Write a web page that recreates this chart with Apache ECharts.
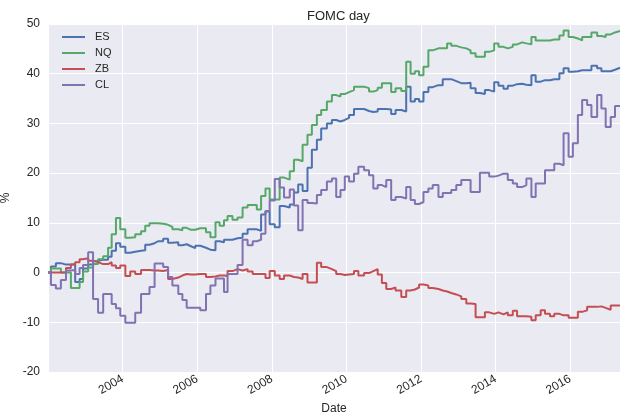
<!DOCTYPE html>
<html>
<head>
<meta charset="UTF-8">
<script src="https://cdn.jsdelivr.net/npm/echarts@6/dist/echarts.min.js"></script>
<style>
    body { margin: 0; background: #fff; }
    #chart { width: 626px; height: 420px; }
</style>
</head>
<body>
<div id="chart"></div>
<script>
    // FOMC meeting dates (first entry = start of the cumulative series)
    var dates = ['2002-01-02',
        '2002-01-30','2002-03-19','2002-05-07','2002-06-26','2002-08-13','2002-09-24','2002-11-06','2002-12-10',
        '2003-01-29','2003-03-18','2003-05-06','2003-06-25','2003-08-12','2003-09-16','2003-10-28','2003-12-09',
        '2004-01-28','2004-03-16','2004-05-04','2004-06-30','2004-08-10','2004-09-21','2004-11-10','2004-12-14',
        '2005-02-02','2005-03-22','2005-05-03','2005-06-30','2005-08-09','2005-09-20','2005-11-01','2005-12-13',
        '2006-01-31','2006-03-28','2006-05-10','2006-06-29','2006-08-08','2006-09-20','2006-10-25','2006-12-12',
        '2007-01-31','2007-03-21','2007-05-09','2007-06-28','2007-08-07','2007-09-18','2007-10-31','2007-12-11',
        '2008-01-30','2008-03-18','2008-04-30','2008-06-25','2008-08-05','2008-09-16','2008-10-29','2008-12-16',
        '2009-01-28','2009-03-18','2009-04-29','2009-06-24','2009-08-12','2009-09-23','2009-11-04','2009-12-16',
        '2010-01-27','2010-03-16','2010-04-28','2010-06-23','2010-08-10','2010-09-21','2010-11-03','2010-12-14',
        '2011-01-26','2011-03-15','2011-04-27','2011-06-22','2011-08-09','2011-09-21','2011-11-02','2011-12-13',
        '2012-01-25','2012-03-13','2012-04-25','2012-06-20','2012-08-01','2012-09-13','2012-10-24','2012-12-12',
        '2013-01-30','2013-03-20','2013-05-01','2013-06-19','2013-07-31','2013-09-18','2013-10-30','2013-12-18',
        '2014-01-29','2014-03-19','2014-04-30','2014-06-18','2014-07-30','2014-09-17','2014-10-29','2014-12-17',
        '2015-01-28','2015-03-18','2015-04-29','2015-06-17','2015-07-29','2015-09-17','2015-10-28','2015-12-16',
        '2016-01-27','2016-03-16','2016-04-27','2016-06-15','2016-07-27','2016-09-21','2016-11-02','2016-12-14',
        '2017-02-01','2017-03-15','2017-05-03'];

    // cumulative % per instrument
    var es = [0,
        1.2, 1.9, 1.6, 1.6, 1.6, -1.9, -1.3, 0.8,
        1.6, 2.3, 2.6, 2.6, 3.2, 4.4, 5.9, 5.2,
        4.0, 4.2, 4.4, 4.5, 5.6, 5.9, 6.3, 6.3,
        6.8, 6.0, 6.1, 5.5, 5.7, 5.3, 4.9, 5.4,
        5.0, 4.6, 4.5, 6.3, 6.1, 6.6, 6.6, 6.9,
        7.0, 7.8, 8.7, 8.7, 8.4, 11.7, 12.3, 9.7,
        9.1, 13.4, 13.1, 13.7, 16.1, 17.7, 16.4, 21.1,
        24.7, 26.7, 29.0, 30.0, 30.7, 30.4, 30.7, 31.1,
        31.7, 32.9, 32.9, 32.5, 32.3, 32.4, 32.9, 32.9,
        32.8, 31.9, 32.7, 32.4, 37.4, 34.4, 34.9, 34.4,
        36.3, 37.3, 37.7, 37.7, 38.9, 38.9, 38.5, 38.1,
        38.1, 38.2, 37.1, 36.1, 35.9, 36.7, 36.4, 38.3,
        37.6, 37.0, 37.6, 37.9, 38.0, 37.8, 37.7, 39.7,
        38.4, 38.7, 38.7, 38.9, 38.9, 40.1, 41.1, 40.4,
        40.5, 40.7, 40.7, 40.7, 41.6, 41.1, 40.5, 40.5,
        40.8, 41.2, 41.2];
    var nq = [0,
        0.8, 0.8, 0.0, 0.0, -3.1, -3.1, -1.9, 0.2,
        1.0, 1.7, 2.7, 3.3, 5.0, 7.7, 11.0, 8.7,
        7.0, 7.1, 7.7, 8.3, 9.4, 9.9, 9.9, 9.8,
        9.6, 9.2, 8.7, 8.5, 9.0, 8.6, 8.6, 8.9,
        8.9, 8.1, 7.1, 10.1, 9.4, 10.5, 11.4, 10.6,
        11.1, 13.1, 13.6, 13.6, 12.7, 15.4, 16.9, 14.7,
        14.7, 19.1, 18.7, 20.4, 22.7, 22.4, 25.7, 27.7,
        29.7, 31.7, 32.7, 34.4, 35.7, 35.4, 35.9, 36.3,
        36.7, 37.4, 37.4, 37.1, 36.4, 36.7, 37.2, 38.1,
        38.1, 36.3, 37.1, 36.5, 42.4, 40.0, 40.5, 39.7,
        41.4, 44.7, 45.1, 45.1, 45.1, 46.1, 45.6, 45.3,
        45.1, 44.7, 44.1, 43.4, 43.4, 44.4, 44.7, 46.1,
        45.4, 45.1, 45.4, 45.9, 46.3, 46.1, 45.9, 47.4,
        46.7, 46.7, 46.7, 46.9, 46.9, 47.7, 48.7, 47.4,
        47.1, 46.7, 47.4, 47.4, 48.3, 47.6, 47.4, 47.9,
        48.3, 48.6, 48.6];
    var zb = [0,
        0.0, 0.0, 0.0, 0.9, 1.6, 2.1, 2.7, 2.9,
        2.4, 2.1, 1.7, 1.7, 2.1, 1.4, 0.9, 1.4,
        -0.7, 0.2, -0.3, 0.5, 0.5, 0.4, 0.4, 0.3,
        0.5, -1.3, -1.0, -0.6, -0.3, -0.4, -0.4, -0.3,
        -0.3, -0.9, -0.8, -0.6, -0.6, -0.7, 0.3, 0.7,
        0.4, 0.7, 0.2, -0.3, -0.3, -0.3, -1.1, 0.3,
        -0.6, -1.3, -0.6, -0.9, -1.0, -1.3, -0.3, -2.0,
        -2.0, 2.0, 1.1, 0.7, 0.3, -0.3, -0.5, -0.4,
        -0.3, 0.3, -0.6, -0.1, 0.3, 0.7, -0.4, -2.1,
        -3.3, -3.0, -3.6, -4.9, -3.6, -3.4, -3.0, -2.4,
        -2.6, -3.1, -3.3, -3.6, -3.8, -4.1, -4.4, -4.8,
        -5.3, -6.2, -6.3, -9.0, -9.0, -8.0, -8.3, -8.0,
        -8.4, -8.0, -8.6, -7.7, -8.8, -8.8, -8.9, -9.6,
        -8.6, -7.6, -8.3, -8.8, -8.3, -8.6, -8.6, -9.1,
        -9.1, -7.9, -7.6, -6.9, -6.9, -6.8, -7.1, -7.5,
        -6.6, -6.6, -6.6];
    var cl = [0,
        -2.5, -3.2, -1.5, 0.4, 0.5, -0.3, 0.9, 1.5,
        4.1, -5.3, -8.1, -4.3, -4.3, -6.3, -7.2, -8.7,
        -10.1, -10.1, -8.1, -4.3, -4.3, -2.9, 1.8, 1.8,
        1.1, -0.9, -2.6, -4.3, -5.5, -7.1, -7.1, -7.1,
        -7.6, -4.3, -2.6, -1.2, -1.2, -3.9, -0.3, -0.3,
        1.5, 6.6, 5.5, 6.3, 6.6, 7.8, 12.4, 14.5,
        18.8, 17.1, 15.1, 16.7, 13.5, 8.5, 14.6, 14.0,
        13.9, 15.6, 16.6, 18.3, 18.9, 15.2, 16.6, 19.3,
        18.3, 19.9, 21.3, 20.6, 19.6, 16.9, 17.6, 17.2,
        18.6, 14.6, 15.2, 14.9, 17.2, 14.6, 13.8, 14.2,
        16.2, 16.9, 17.6, 15.2, 16.0, 16.0, 16.6, 17.6,
        18.6, 18.6, 16.2, 16.2, 20.1, 20.1, 19.3, 19.5,
        19.9, 19.9, 18.6, 17.9, 17.2, 17.6, 18.9, 15.2,
        17.9, 17.9, 20.6, 20.6, 21.9, 21.6, 28.0, 23.3,
        26.0, 31.7, 34.7, 33.7, 31.3, 35.7, 33.0, 29.3,
        31.3, 33.5, 33.5];

    var names = ['ES', 'NQ', 'ZB', 'CL'];
    var colors = ['#4C72B0', '#55A868', '#C44E52', '#8172B2'];
    var values = [es, nq, zb, cl];

    // date string -> decimal year
    function toYear(s) {
        var p = s.split('-');
        var y = +p[0];
        var t0 = Date.UTC(y, 0, 1), t1 = Date.UTC(y + 1, 0, 1);
        var t = Date.UTC(y, +p[1] - 1, +p[2]);
        return y + (t - t0) / (t1 - t0);
    }
    var xs = dates.map(toYear);

    var font = "'Liberation Sans', Arial, sans-serif";
    var txt = '#262626';

    var series = [];
    for (var k = 0; k < names.length; k++) {
        series.push({
            name: names[k],
            type: 'line',
            step: 'end',
            symbol: 'none',
            data: xs.map(function (x, i) { return [x, values[k][i]]; }),
            lineStyle: { color: colors[k], width: 2 },
            itemStyle: { color: colors[k] }
        });
    }

    var chart = echarts.init(document.getElementById('chart'));
    chart.setOption({
        animation: false,
        backgroundColor: '#fff',
        textStyle: { fontFamily: font },
        title: {
            text: 'FOMC day',
            left: 302,
            top: 5,
            textStyle: { fontFamily: font, fontSize: 13, fontWeight: 'normal', color: txt }
        },
        legend: {
            data: names,
            orient: 'vertical',
            left: 57,
            top: 24,
            icon: 'rect',
            itemWidth: 23,
            itemHeight: 2,
            itemGap: 0,
            textStyle: { fontFamily: font, fontSize: 11, color: txt, lineHeight: 16, padding: [0, 0, 0, 5] }
        },
        grid: {
            left: 48, right: 6, top: 24, bottom: 48,
            outerBoundsMode: 'none',
            containLabel: false,
            show: true, backgroundColor: '#EAEAF2', borderWidth: 0
        },
        xAxis: {
            type: 'value',
            name: 'Date',
            nameLocation: 'middle',
            nameGap: 31,
            nameTextStyle: { fontFamily: font, fontSize: 12, color: txt },
            min: 2002,
            max: xs[xs.length - 1],
            interval: 2,
            axisLine: { show: false },
            axisTick: { show: false },
            axisLabel: {
                rotate: 30, margin: 6, fontSize: 12, color: txt, fontFamily: font,
                showMinLabel: false, showMaxLabel: false,
                formatter: function (v) { return String(Math.round(v)); }
            },
            splitLine: { show: true, lineStyle: { color: '#ffffff', width: 1 } }
        },
        yAxis: {
            type: 'value',
            name: '%',
            nameLocation: 'middle',
            nameGap: 30,
            nameTextStyle: { fontFamily: font, fontSize: 12, color: txt },
            min: -20, max: 50, interval: 10,
            axisLine: { show: false },
            axisTick: { show: false },
            axisLabel: { margin: 8, fontSize: 12, color: txt, fontFamily: font },
            splitLine: { show: true, lineStyle: { color: '#ffffff', width: 1 } }
        },
        series: series
    });
</script>
</body>
</html>
